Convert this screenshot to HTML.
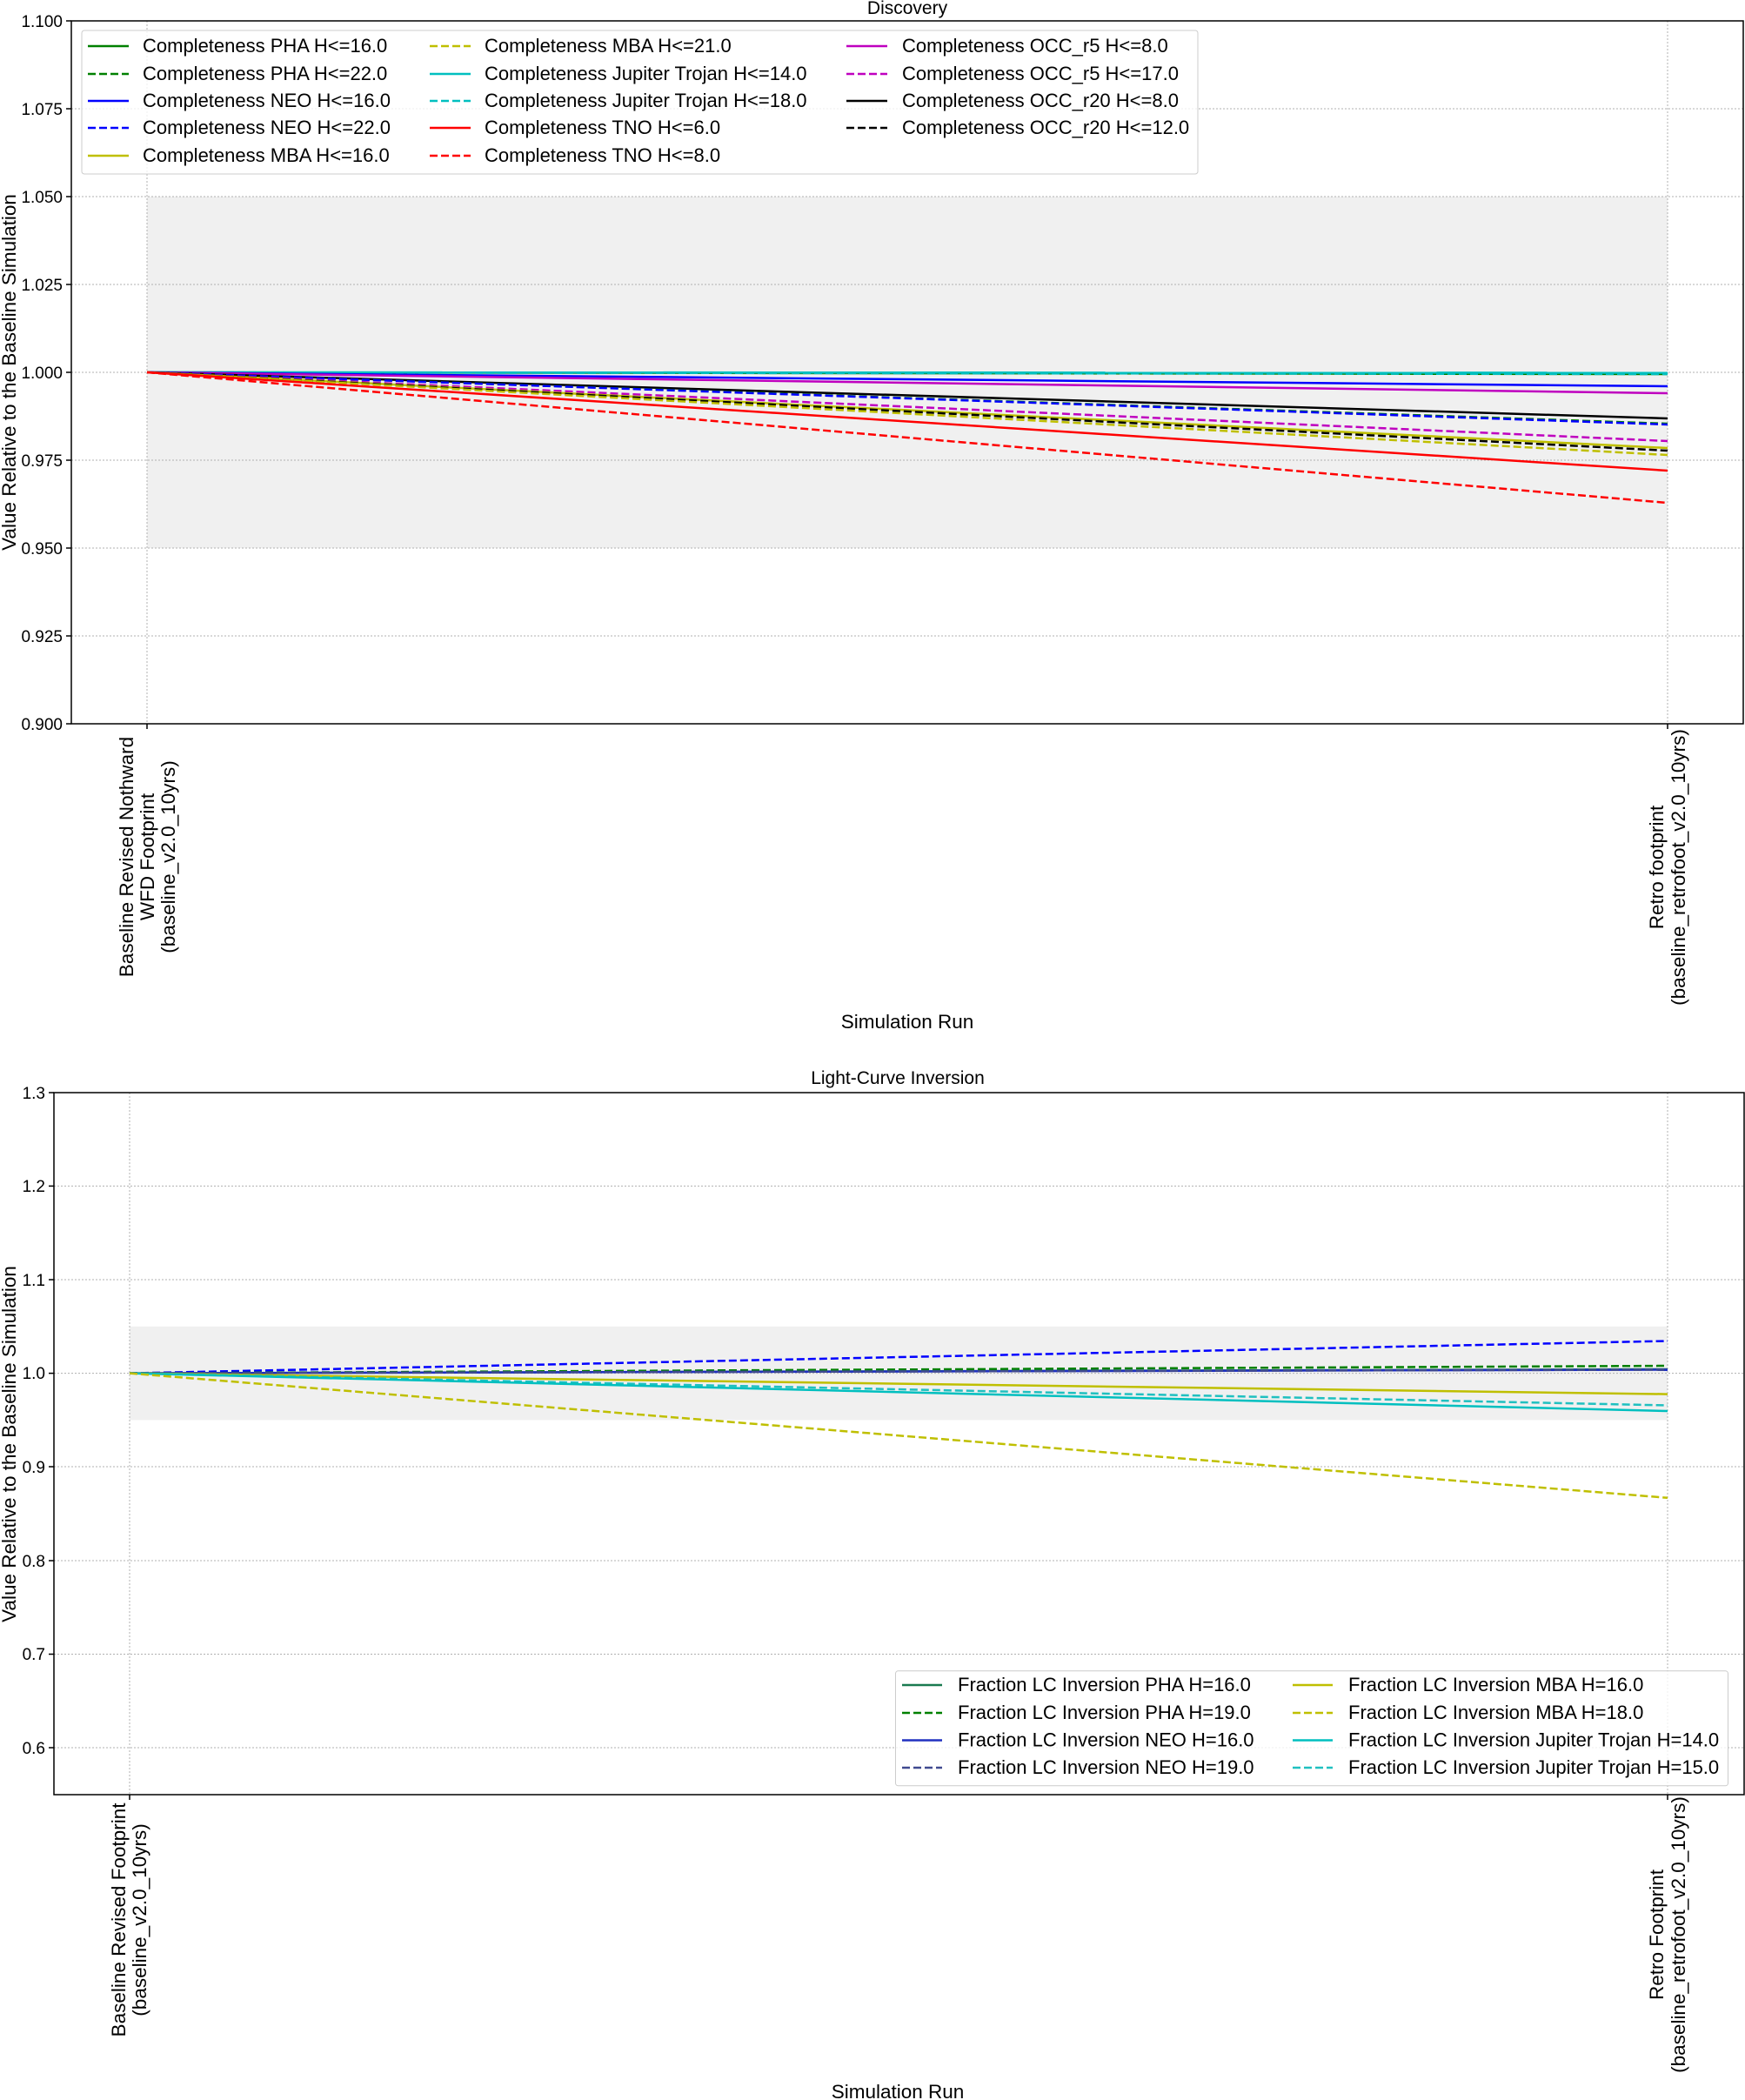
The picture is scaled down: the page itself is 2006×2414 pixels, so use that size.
<!DOCTYPE html>
<html><head><meta charset="utf-8"><style>body{margin:0;background:#fff}svg{display:block}text{font-family:"Liberation Sans",sans-serif;fill:#000}</style></head><body>
<svg width="2006" height="2414" viewBox="0 0 2006 2414" xmlns="http://www.w3.org/2000/svg">
<rect width="2006" height="2414" fill="#fff"/>
<!-- TOP PLOT -->
<rect x="169" y="226" width="1748" height="404" fill="#f0f0f0"/>
<g stroke="#b0b0b0" stroke-width="1" stroke-dasharray="2,2">
<line x1="82" x2="2004" y1="125" y2="125"/><line x1="82" x2="2004" y1="226" y2="226"/><line x1="82" x2="2004" y1="327" y2="327"/><line x1="82" x2="2004" y1="428" y2="428"/><line x1="82" x2="2004" y1="529" y2="529"/><line x1="82" x2="2004" y1="630" y2="630"/><line x1="82" x2="2004" y1="731" y2="731"/>
<line x1="169" x2="169" y1="24" y2="832"/><line x1="1917" x2="1917" y1="24" y2="832"/>
</g>
<g fill="none" stroke-width="2.5">
<line x1="169" y1="428" x2="1917" y2="430" stroke="#008000"/>
<line x1="169" y1="428" x2="1917" y2="428.5" stroke="#00bfbf"/>
<line x1="169" y1="428" x2="1917" y2="430" stroke="#00bfbf" stroke-dasharray="9,4"/>
<line x1="169" y1="428" x2="1917" y2="444" stroke="#0000ff"/>
<line x1="169" y1="428" x2="1917" y2="452" stroke="#bf00bf"/>
<line x1="169" y1="428" x2="1917" y2="481" stroke="#000"/>
<line x1="169" y1="428" x2="1917" y2="487" stroke="#008000" stroke-dasharray="9,4"/>
<line x1="169" y1="428" x2="1917" y2="488" stroke="#0000ff" stroke-dasharray="9,4"/>
<line x1="169" y1="428" x2="1917" y2="507" stroke="#bf00bf" stroke-dasharray="9,4"/>
<line x1="169" y1="428" x2="1917" y2="515" stroke="#bfbf00"/>
<line x1="169" y1="428" x2="1917" y2="518" stroke="#000" stroke-dasharray="9,4"/>
<line x1="169" y1="428" x2="1917" y2="523" stroke="#bfbf00" stroke-dasharray="9,4"/>
<line x1="169" y1="428" x2="1917" y2="541" stroke="#ff0000"/>
<line x1="169" y1="428" x2="1917" y2="578" stroke="#ff0000" stroke-dasharray="9,4"/>
</g>
<rect x="82" y="24" width="1922" height="808" fill="none" stroke="#000" stroke-width="1.5"/>
<g stroke="#000" stroke-width="1.5"><line x1="76" x2="82" y1="24" y2="24"/><line x1="76" x2="82" y1="125" y2="125"/><line x1="76" x2="82" y1="226" y2="226"/><line x1="76" x2="82" y1="327" y2="327"/><line x1="76" x2="82" y1="428" y2="428"/><line x1="76" x2="82" y1="529" y2="529"/><line x1="76" x2="82" y1="630" y2="630"/><line x1="76" x2="82" y1="731" y2="731"/><line x1="76" x2="82" y1="832" y2="832"/><line x1="169" x2="169" y1="832" y2="838"/><line x1="1917" x2="1917" y1="832" y2="838"/></g>
<g font-size="19" text-anchor="end"><text x="72" y="31">1.100</text><text x="72" y="132">1.075</text><text x="72" y="233">1.050</text><text x="72" y="334">1.025</text><text x="72" y="435">1.000</text><text x="72" y="536">0.975</text><text x="72" y="637">0.950</text><text x="72" y="738">0.925</text><text x="72" y="839">0.900</text></g>
<text x="1043" y="16" font-size="21" text-anchor="middle">Discovery</text>
<!-- legend top -->
<rect x="94" y="35" width="1283" height="165" fill="#fff" fill-opacity="0.8" stroke="#ccc" rx="3"/>
<g stroke-width="2.5">
<line x1="101" x2="148" y1="53" y2="53" stroke="#008000"/><line x1="101" x2="148" y1="85" y2="85" stroke="#008000" stroke-dasharray="9,4"/><line x1="101" x2="148" y1="116" y2="116" stroke="#0000ff"/><line x1="101" x2="148" y1="147" y2="147" stroke="#0000ff" stroke-dasharray="9,4"/><line x1="101" x2="148" y1="179" y2="179" stroke="#bfbf00"/>
<line x1="494" x2="541" y1="53" y2="53" stroke="#bfbf00" stroke-dasharray="9,4"/><line x1="494" x2="541" y1="85" y2="85" stroke="#00bfbf"/><line x1="494" x2="541" y1="116" y2="116" stroke="#00bfbf" stroke-dasharray="9,4"/><line x1="494" x2="541" y1="147" y2="147" stroke="#ff0000"/><line x1="494" x2="541" y1="179" y2="179" stroke="#ff0000" stroke-dasharray="9,4"/>
<line x1="973" x2="1020" y1="53" y2="53" stroke="#bf00bf"/><line x1="973" x2="1020" y1="85" y2="85" stroke="#bf00bf" stroke-dasharray="9,4"/><line x1="973" x2="1020" y1="116" y2="116" stroke="#000"/><line x1="973" x2="1020" y1="147" y2="147" stroke="#000" stroke-dasharray="9,4"/>
</g>
<g font-size="22">
<text x="164" y="60">Completeness PHA H&lt;=16.0</text><text x="164" y="92">Completeness PHA H&lt;=22.0</text><text x="164" y="123">Completeness NEO H&lt;=16.0</text><text x="164" y="154">Completeness NEO H&lt;=22.0</text><text x="164" y="186">Completeness MBA H&lt;=16.0</text>
<text x="557" y="60">Completeness MBA H&lt;=21.0</text><text x="557" y="92">Completeness Jupiter Trojan H&lt;=14.0</text><text x="557" y="123">Completeness Jupiter Trojan H&lt;=18.0</text><text x="557" y="154">Completeness TNO H&lt;=6.0</text><text x="557" y="186">Completeness TNO H&lt;=8.0</text>
<text x="1037" y="60">Completeness OCC_r5 H&lt;=8.0</text><text x="1037" y="92">Completeness OCC_r5 H&lt;=17.0</text><text x="1037" y="123">Completeness OCC_r20 H&lt;=8.0</text><text x="1037" y="154">Completeness OCC_r20 H&lt;=12.0</text>
</g>
<g font-size="22.5" text-anchor="middle">
<text transform="translate(153,985) rotate(-90)">Baseline Revised Nothward</text>
<text transform="translate(177,985) rotate(-90)">WFD Footprint</text>
<text transform="translate(201,985) rotate(-90)">(baseline_v2.0_10yrs)</text>
<text transform="translate(1912,997) rotate(-90)">Retro footprint</text>
<text transform="translate(1937,997) rotate(-90)">(baseline_retrofoot_v2.0_10yrs)</text>
</g>
<text x="1043" y="1182" font-size="22.5" text-anchor="middle">Simulation Run</text>
<text transform="translate(18,428) rotate(-90)" font-size="22.5" text-anchor="middle">Value Relative to the Baseline Simulation</text>

<!-- BOTTOM PLOT -->
<rect x="149" y="1524.8" width="1768" height="107.6" fill="#f0f0f0"/>
<g stroke="#b0b0b0" stroke-width="1" stroke-dasharray="2,2">
<line x1="62" x2="2005" y1="1363.4" y2="1363.4"/><line x1="62" x2="2005" y1="1471" y2="1471"/><line x1="62" x2="2005" y1="1578.6" y2="1578.6"/><line x1="62" x2="2005" y1="1686" y2="1686"/><line x1="62" x2="2005" y1="1794" y2="1794"/><line x1="62" x2="2005" y1="1901.5" y2="1901.5"/><line x1="62" x2="2005" y1="2009" y2="2009"/>
<line x1="149" x2="149" y1="1256" y2="2063"/><line x1="1917" x2="1917" y1="1256" y2="2063"/>
</g>
<g fill="none" stroke-width="2.5">
<line x1="149" y1="1578.6" x2="1917" y2="1541.5" stroke="#0000ff" stroke-dasharray="9,4"/>
<line x1="149" y1="1578.6" x2="1917" y2="1570" stroke="#008000" stroke-dasharray="9,4"/>
<line x1="149" y1="1578.6" x2="1917" y2="1574" stroke="#1a7a50"/>
<line x1="149" y1="1578.6" x2="1917" y2="1574.5" stroke="#2030c0"/>
<line x1="149" y1="1578.6" x2="1917" y2="1574.5" stroke="#404a90" stroke-dasharray="9,4"/>
<line x1="149" y1="1578.6" x2="1917" y2="1602.6" stroke="#bfbf00"/>
<line x1="149" y1="1578.6" x2="1917" y2="1615.5" stroke="#20c0c0" stroke-dasharray="9,4"/>
<line x1="149" y1="1578.6" x2="1917" y2="1622" stroke="#00bfbf"/>
<line x1="149" y1="1578.6" x2="1917" y2="1721.8" stroke="#bfbf00" stroke-dasharray="9,4"/>
</g>
<rect x="62" y="1256" width="1943" height="807" fill="none" stroke="#000" stroke-width="1.5"/>
<g stroke="#000" stroke-width="1.5"><line x1="56" x2="62" y1="1256" y2="1256"/><line x1="56" x2="62" y1="1363.4" y2="1363.4"/><line x1="56" x2="62" y1="1471" y2="1471"/><line x1="56" x2="62" y1="1578.6" y2="1578.6"/><line x1="56" x2="62" y1="1686" y2="1686"/><line x1="56" x2="62" y1="1794" y2="1794"/><line x1="56" x2="62" y1="1901.5" y2="1901.5"/><line x1="56" x2="62" y1="2009" y2="2009"/><line x1="149" x2="149" y1="2063" y2="2069"/><line x1="1917" x2="1917" y1="2063" y2="2069"/></g>
<g font-size="19" text-anchor="end"><text x="52" y="1263">1.3</text><text x="52" y="1370">1.2</text><text x="52" y="1478">1.1</text><text x="52" y="1585">1.0</text><text x="52" y="1693">0.9</text><text x="52" y="1801">0.8</text><text x="52" y="1908">0.7</text><text x="52" y="2016">0.6</text></g>
<text x="1032" y="1246" font-size="21" text-anchor="middle">Light-Curve Inversion</text>
<rect x="1029.5" y="1920.8" width="957" height="132" fill="#fff" fill-opacity="0.8" stroke="#ccc" rx="3"/>
<g stroke-width="2.5">
<line x1="1037" x2="1083" y1="1937" y2="1937" stroke="#1a7a50"/><line x1="1037" x2="1083" y1="1969" y2="1969" stroke="#008000" stroke-dasharray="9,4"/><line x1="1037" x2="1083" y1="2000.5" y2="2000.5" stroke="#2030c0"/><line x1="1037" x2="1083" y1="2032" y2="2032" stroke="#404a90" stroke-dasharray="9,4"/>
<line x1="1486" x2="1532" y1="1937" y2="1937" stroke="#bfbf00"/><line x1="1486" x2="1532" y1="1969" y2="1969" stroke="#bfbf00" stroke-dasharray="9,4"/><line x1="1486" x2="1532" y1="2000.5" y2="2000.5" stroke="#00bfbf"/><line x1="1486" x2="1532" y1="2032" y2="2032" stroke="#20c0c0" stroke-dasharray="9,4"/>
</g>
<g font-size="22">
<text x="1101" y="1944">Fraction LC Inversion PHA H=16.0</text><text x="1101" y="1976">Fraction LC Inversion PHA H=19.0</text><text x="1101" y="2007.5">Fraction LC Inversion NEO H=16.0</text><text x="1101" y="2039">Fraction LC Inversion NEO H=19.0</text>
<text x="1550" y="1944">Fraction LC Inversion MBA H=16.0</text><text x="1550" y="1976">Fraction LC Inversion MBA H=18.0</text><text x="1550" y="2007.5">Fraction LC Inversion Jupiter Trojan H=14.0</text><text x="1550" y="2039">Fraction LC Inversion Jupiter Trojan H=15.0</text>
</g>
<g font-size="22.5" text-anchor="middle">
<text transform="translate(144,2207) rotate(-90)">Baseline Revised Footprint</text>
<text transform="translate(168,2207) rotate(-90)">(baseline_v2.0_10yrs)</text>
<text transform="translate(1912,2224) rotate(-90)">Retro Footprint</text>
<text transform="translate(1937,2224) rotate(-90)">(baseline_retrofoot_v2.0_10yrs)</text>
</g>
<text x="1032" y="2412" font-size="22.5" text-anchor="middle">Simulation Run</text>
<text transform="translate(18,1660) rotate(-90)" font-size="22.5" text-anchor="middle">Value Relative to the Baseline Simulation</text>
</svg>
</body></html>
